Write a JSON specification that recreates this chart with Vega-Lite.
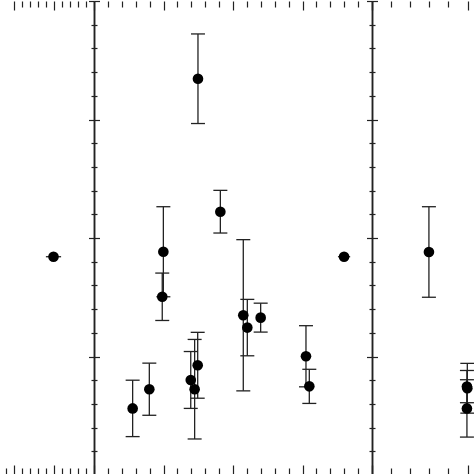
{
  "$schema": "https://vega.github.io/schema/vega-lite/v6.json",
  "padding": 0,
  "spacing": 0,
  "bounds": "flush",
  "background": "white",
  "config": {
    "view": {"stroke": null},
    "axis": {"labels": false, "title": null, "grid": false, "domainColor": "#222", "domainWidth": 1.5, "tickColor": "#222", "tickWidth": 1.2}
  },
  "datasets": {
    "A": [
      {"x": 15.0, "y": 9.21, "xlo": 14.05, "xhi": 15.95}
    ],
    "B": [
      {"x": 7.48, "y": 16.72, "lo": 14.83, "hi": 18.61},
      {"x": 4.99, "y": 9.42, "lo": 7.52, "hi": 11.32},
      {"x": 4.91, "y": 7.52, "lo": 6.52, "hi": 8.52},
      {"x": 9.09, "y": 11.11, "lo": 10.21, "hi": 12.01},
      {"x": 10.74, "y": 6.74, "lo": 3.55, "hi": 9.93},
      {"x": 11.99, "y": 6.64, "lo": 6.03, "hi": 7.25},
      {"x": 11.03, "y": 6.22, "lo": 5.03, "hi": 7.41},
      {"x": 2.78, "y": 2.81, "lo": 1.62, "hi": 4.0},
      {"x": 3.98, "y": 3.62, "lo": 2.52, "hi": 4.72},
      {"x": 6.96, "y": 4.01, "lo": 2.81, "hi": 5.21},
      {"x": 7.46, "y": 4.63, "lo": 3.24, "hi": 6.02},
      {"x": 7.24, "y": 3.62, "lo": 1.52, "hi": 5.72},
      {"x": 15.25, "y": 5.01, "lo": 3.72, "hi": 6.3},
      {"x": 15.49, "y": 3.74, "lo": 3.02, "hi": 4.46},
      {"x": 17.99, "y": 9.21, "xlo": 17.55, "xhi": 18.43}
    ],
    "C": [
      {"x": 2.98, "y": 9.41, "lo": 7.5, "hi": 11.32},
      {"x": 4.99, "y": 3.66, "lo": 2.61, "hi": 4.71},
      {"x": 4.97, "y": 3.73, "lo": 3.05, "hi": 4.41},
      {"x": 4.97, "y": 2.81, "lo": 1.6, "hi": 4.02}
    ]
  },
  "hconcat": [
    {
      "width": 94, "height": 474,
      "data": {"name": "A"},
      "layer": [
        {
          "mark": {"type": "rule", "color": "#222", "strokeWidth": 1.3},
          "encoding": {
            "x": {"field": "xlo", "type": "quantitative", "scale": {"domain": [8.3125, 20.0625]},
              "axis": {"orient": "bottom", "domain": false, "values": [9,10,11,12,13,14,15,16,17,18,19], "tickSize": {"condition": {"test": "datum.value % 5 === 0", "value": -10}, "value": -7}}},
            "x2": {"field": "xhi"},
            "y": {"field": "y", "type": "quantitative", "scale": {"domain": [0, 20]},
              "axis": {"orient": "right", "domain": true, "values": [0,1,2,3,4,5,6,7,8,9,10,11,12,13,14,15,16,17,18,19,20], "tickSize": {"condition": {"test": "datum.value % 5 === 0", "value": -5.5}, "value": -3}}}
          }
        },
        {
          "mark": {"type": "circle", "size": 113, "color": "#000", "opacity": 1},
          "encoding": {
            "x": {"field": "x", "type": "quantitative", "scale": {"domain": [8.3125, 20.0625]},
              "axis": {"orient": "top", "domain": false, "values": [10,11,12,13,14,15,16,17,18,19], "tickSize": {"condition": {"test": "datum.value % 5 === 0", "value": -9}, "value": -6}}},
            "y": {"field": "y", "type": "quantitative", "scale": {"domain": [0, 20]}, "axis": null}
          }
        }
      ],
      "resolve": {"axis": {"x": "independent", "y": "independent"}}
    },
    {
      "width": 278, "height": 474,
      "data": {"name": "B"},
      "layer": [
        {
          "transform": [{"filter": "isValid(datum.lo)"}],
          "mark": {"type": "rule", "color": "#222", "strokeWidth": 1.3},
          "encoding": {
            "x": {"field": "x", "type": "quantitative", "scale": {"domain": [0, 20]},
              "axis": {"orient": "bottom", "domain": false, "values": [0,1,2,3,4,5,6,7,8,9,10,11,12,13,14,15,16,17,18,19,20], "tickSize": {"condition": {"test": "datum.value % 5 === 0", "value": -10}, "value": -7}}},
            "y": {"field": "lo", "type": "quantitative", "scale": {"domain": [0, 20]},
              "axis": {"orient": "left", "domain": true, "values": [0,1,2,3,4,5,6,7,8,9,10,11,12,13,14,15,16,17,18,19,20], "tickSize": {"condition": {"test": "datum.value % 5 === 0", "value": -5.5}, "value": -3}}},
            "y2": {"field": "hi"}
          }
        },
        {
          "transform": [{"filter": "isValid(datum.lo)"}],
          "mark": {"type": "tick", "orient": "horizontal", "size": 14, "thickness": 1.3, "color": "#222", "opacity": 1},
          "encoding": {
            "x": {"field": "x", "type": "quantitative", "scale": {"domain": [0, 20]},
              "axis": {"orient": "top", "domain": false, "values": [0,1,2,3,4,5,6,7,8,9,10,11,12,13,14,15,16,17,18,19,20], "tickSize": {"condition": {"test": "datum.value % 5 === 0", "value": -9}, "value": -6}}},
            "y": {"field": "hi", "type": "quantitative", "scale": {"domain": [0, 20]},
              "axis": {"orient": "right", "domain": true, "values": [0,1,2,3,4,5,6,7,8,9,10,11,12,13,14,15,16,17,18,19,20], "tickSize": {"condition": {"test": "datum.value % 5 === 0", "value": -5.5}, "value": -3}}}
          }
        },
        {
          "transform": [{"filter": "isValid(datum.lo)"}],
          "mark": {"type": "tick", "orient": "horizontal", "size": 14, "thickness": 1.3, "color": "#222", "opacity": 1},
          "encoding": {
            "x": {"field": "x", "type": "quantitative", "scale": {"domain": [0, 20]}, "axis": null},
            "y": {"field": "lo", "type": "quantitative", "scale": {"domain": [0, 20]}, "axis": null}
          }
        },
        {
          "transform": [{"filter": "isValid(datum.xlo)"}],
          "mark": {"type": "rule", "color": "#222", "strokeWidth": 1.3},
          "encoding": {
            "x": {"field": "xlo", "type": "quantitative", "scale": {"domain": [0, 20]}, "axis": null},
            "x2": {"field": "xhi"},
            "y": {"field": "y", "type": "quantitative", "scale": {"domain": [0, 20]}, "axis": null}
          }
        },
        {
          "mark": {"type": "circle", "size": 113, "color": "#000", "opacity": 1},
          "encoding": {
            "x": {"field": "x", "type": "quantitative", "scale": {"domain": [0, 20]}, "axis": null},
            "y": {"field": "y", "type": "quantitative", "scale": {"domain": [0, 20]}, "axis": null}
          }
        }
      ],
      "resolve": {"axis": {"x": "independent", "y": "independent"}}
    },
    {
      "width": 102, "height": 474,
      "data": {"name": "C"},
      "layer": [
        {
          "mark": {"type": "rule", "color": "#222", "strokeWidth": 1.3},
          "encoding": {
            "x": {"field": "x", "type": "quantitative", "scale": {"domain": [0, 5.34]},
              "axis": {"orient": "bottom", "domain": false, "values": [0,1,2,3,4,5], "tickSize": {"condition": {"test": "datum.value % 5 === 0", "value": -10}, "value": -7}}},
            "y": {"field": "lo", "type": "quantitative", "scale": {"domain": [0, 20]},
              "axis": {"orient": "left", "domain": true, "values": [0,1,2,3,4,5,6,7,8,9,10,11,12,13,14,15,16,17,18,19,20], "tickSize": {"condition": {"test": "datum.value % 5 === 0", "value": -5.5}, "value": -3}}},
            "y2": {"field": "hi"}
          }
        },
        {
          "mark": {"type": "tick", "orient": "horizontal", "size": 14, "thickness": 1.3, "color": "#222", "opacity": 1},
          "encoding": {
            "x": {"field": "x", "type": "quantitative", "scale": {"domain": [0, 5.34]},
              "axis": {"orient": "top", "domain": false, "values": [0,1,2,3,4,5], "tickSize": {"condition": {"test": "datum.value % 5 === 0", "value": -9}, "value": -6}}},
            "y": {"field": "hi", "type": "quantitative", "scale": {"domain": [0, 20]}, "axis": null}
          }
        },
        {
          "mark": {"type": "tick", "orient": "horizontal", "size": 14, "thickness": 1.3, "color": "#222", "opacity": 1},
          "encoding": {
            "x": {"field": "x", "type": "quantitative", "scale": {"domain": [0, 5.34]}, "axis": null},
            "y": {"field": "lo", "type": "quantitative", "scale": {"domain": [0, 20]}, "axis": null}
          }
        },
        {
          "mark": {"type": "circle", "size": 113, "color": "#000", "opacity": 1},
          "encoding": {
            "x": {"field": "x", "type": "quantitative", "scale": {"domain": [0, 5.34]}, "axis": null},
            "y": {"field": "y", "type": "quantitative", "scale": {"domain": [0, 20]}, "axis": null}
          }
        }
      ],
      "resolve": {"axis": {"x": "independent", "y": "independent"}}
    }
  ]
}
